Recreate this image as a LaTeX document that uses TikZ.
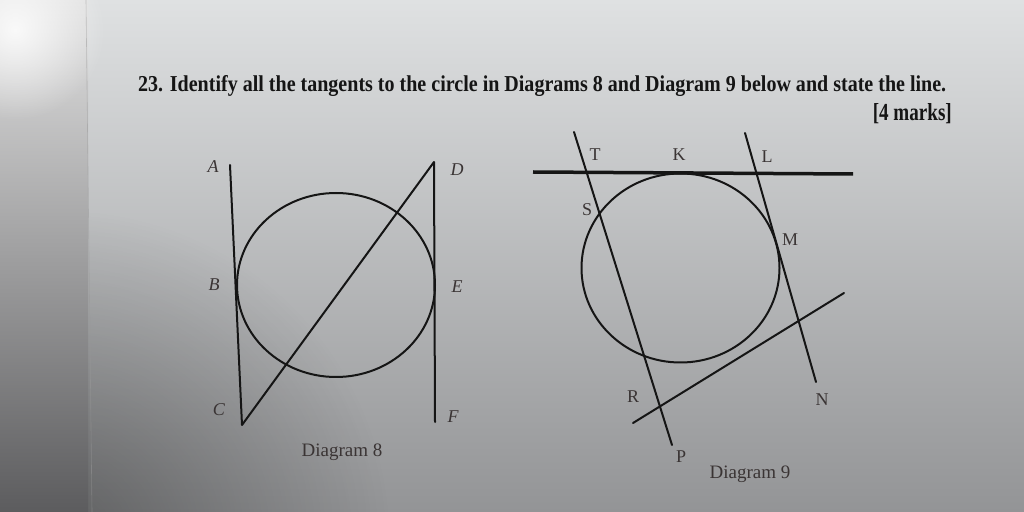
\documentclass[tikz,border=0pt]{standalone}
\usepackage{fontspec}
\setmainfont{Liberation Serif}
\usetikzlibrary{fadings}
\definecolor{bgtop}{HTML}{DFE1E2}
\definecolor{bgmid}{HTML}{D2D4D5}
\definecolor{bgbot}{HTML}{939496}
\definecolor{stripTop}{HTML}{E2E2E2}
\definecolor{stripMid}{HTML}{ABABAD}
\definecolor{stripBot}{HTML}{5C5C5E}
\definecolor{ink}{HTML}{151515}
\definecolor{lbl}{HTML}{3A3434}
\tikzfading[name=glow, inner color=transparent!0, outer color=transparent!100]
\tikzset{
  geo/.style={draw=ink, line width=2bp, line join=round, line cap=round},
  thickgeo/.style={draw=ink, line width=3.5bp, line cap=butt},
  lab8/.style={text=lbl, font=\fontsize{18bp}{20bp}\selectfont\itshape, inner sep=0pt},
  lab9/.style={text=lbl, font=\fontsize{18bp}{20bp}\selectfont, inner sep=0pt},
  captext/.style={text=lbl, font=\fontsize{19bp}{21bp}\selectfont, inner sep=0pt},
}
\begin{document}
\begin{tikzpicture}[x=1bp, y=-1bp]
\useasboundingbox (0,0) rectangle (1024,512);
% background photo
\shade[top color=bgtop, middle color=bgmid, bottom color=bgbot] (0,0) rectangle (1024,512);
\fill[black, fill opacity=0.35, path fading=glow] (60,540) circle (330);
\shade[top color=stripTop, middle color=stripMid, bottom color=stripBot] (0,0) rectangle (88,512);
\fill[white, fill opacity=0.85, path fading=glow] (15,30) circle (90);
\draw[black!40, line width=0.6bp, opacity=0.5] (86,0) -- (92,512);

% title
\node[anchor=base west, inner sep=0pt, text=ink] (title) at (138,91.5)
  {\resizebox{808bp}{16bp}{\fontsize{22bp}{24bp}\selectfont\bfseries 23. Identify all the tangents to the circle in Diagrams 8 and Diagram 9 below and state the line.}};
\node[anchor=base east, inner sep=0pt, text=ink] (marks) at (952,120.5)
  {\resizebox{79bp}{17bp}{\fontsize{21bp}{24bp}\selectfont\bfseries [4 marks]}};

% Diagram 8
\coordinate (A8) at (230,165);
\coordinate (C8) at (242,425);
\coordinate (D8) at (434,162);
\coordinate (F8) at (435,422);
\coordinate (O8) at (336,285);
\draw[geo] (O8) ellipse [x radius=99, y radius=92];
\draw[geo] (A8) -- (C8) -- (D8) -- (F8);
\node[lab8] (lA) at (213,167) {A};
\node[lab8] (lB) at (214,285) {B};
\node[lab8] (lC) at (219,410) {C};
\node[lab8] (lD) at (457,170) {D};
\node[lab8] (lE) at (457,287) {E};
\node[lab8] (lF) at (453,417) {F};
\node[captext] (cap8) at (342,452) {Diagram 8};

% Diagram 9
\coordinate (O9) at (680.5,268);
\coordinate (T9) at (574,132);
\coordinate (P9) at (672,445);
\coordinate (L9) at (745,133);
\coordinate (N9) at (816,382);
\coordinate (H1) at (533,172);
\coordinate (H2) at (853,174);
\coordinate (R9) at (633,423);
\coordinate (Q9) at (844,293);
\draw[geo] (O9) ellipse [x radius=99, y radius=94.5];
\draw[geo] (T9) -- (P9);
\draw[geo] (L9) -- (N9);
\draw[geo] (R9) -- (Q9);
\draw[thickgeo] (H1) -- (H2);
\node[lab9] (lT) at (595,155) {T};
\node[lab9] (lK) at (679,155) {K};
\node[lab9] (lL) at (767,157) {L};
\node[lab9] (lS) at (587,210) {S};
\node[lab9] (lM) at (790,240) {M};
\node[lab9] (lR) at (633,397) {R};
\node[lab9] (lN) at (822,400) {N};
\node[lab9] (lP) at (681,457) {P};
\node[captext] (cap9) at (750,474) {Diagram 9};
\end{tikzpicture}
\end{document}
